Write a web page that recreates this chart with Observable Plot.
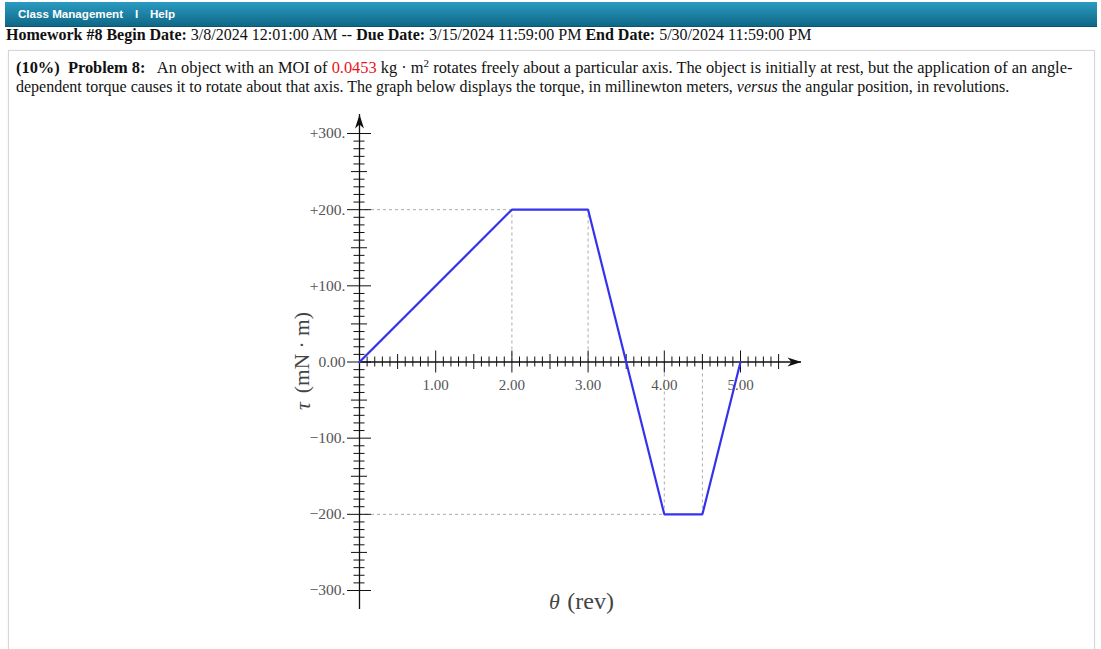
<!DOCTYPE html>
<html>
<head>
<meta charset="utf-8">
<script src="https://cdn.jsdelivr.net/npm/d3@7"></script>
<script src="https://cdn.jsdelivr.net/npm/@observablehq/plot@0.6"></script>
<style>
  html, body { margin: 0; padding: 0; background: #fff; }
  .page { position: relative; width: 1101px; height: 649px; overflow: hidden; font-family: "Liberation Serif", "Times New Roman", serif; color: #111; }
  .topbar { position: absolute; left: 5px; top: 2px; width: 1092px; height: 24px;
    background: linear-gradient(#2b9cc2, #0f6787); border-bottom: 1px solid #0b5570; }
  .topbar span { position: absolute; top: 5px; font-family: "Liberation Sans", Arial, sans-serif; font-weight: bold; font-size: 11.6px; color: #fff; }
  .hw { position: absolute; left: 6px; top: 26px; font-size: 16px; line-height: 18px; white-space: nowrap; }
  .box { position: absolute; left: 8px; top: 50px; width: 1085px; height: 640px; border: 1px solid #d6d6d6; box-shadow: 0 0 2px #eee; }
  .prob { position: absolute; left: 16px; top: 58px; font-size: 16.4px; line-height: 19px; white-space: nowrap; }
  .l2 { font-size: 16px; }
  .red { color: #e8141e; }
  #chart { position: absolute; left: 0; top: 100px; }
  #chart svg { overflow: visible; background: transparent; }
</style>
</head>
<body>
<div class="page">
  <div class="topbar"><span style="left:13px">Class Management</span><span style="left:130px">I</span><span style="left:145px">Help</span></div>
  <div class="hw"><b>Homework #8 Begin Date:</b> 3/8/2024 12:01:00 AM -- <b>Due Date:</b> 3/15/2024 11:59:00 PM <b>End Date:</b> 5/30/2024 11:59:00 PM</div>
  <div class="box"></div>
  <div class="prob"><b>(10%)&nbsp; Problem 8:</b>&nbsp;&nbsp; An object with an MOI of <span class="red">0.0453</span> kg · m<sup style="font-size:11px;line-height:0">2</sup> rotates freely about a particular axis. The object is initially at rest, but the application of an angle-<br><span class="l2">dependent torque causes it to rotate about that axis. The graph below displays the torque, in millinewton meters, <i>versus</i> the angular position, in revolutions.</span></div>
  <div id="chart"></div>
</div>
<script>
// ---- data ----
const theta = [0, 2, 3, 4, 4.5, 5];            // angular position (rev)
const torque = [0, 200, 200, -200, -200, 0];    // torque (mN·m)
const yTickValues = [-300, -200, -100, 0, 100, 200, 300];
const yTickLabels = ["\u2212300.", "\u2212200.", "\u2212100.", "0.00", "+100.", "+200.", "+300."];
const xTickValues = [1, 2, 3, 4, 5];
const xTickLabels = ["1.00", "2.00", "3.00", "4.00", "5.00"];
const xAxisExtent = [0, 5.8];
const yAxisExtent = [-325, 325];
const xLabelSymbol = "\u03b8", xLabelUnit = "(rev)";
const yLabelSymbol = "\u03c4", yLabelUnit = "(mN \u00b7 m)";

const points = theta.map((t, i) => ({theta: t, torque: torque[i]}));

// dashed guide lines from the breakpoints
const vGuides = points.filter(d => d.torque !== 0);
const hGuides = vGuides.filter((d, i, a) => i === 0 || a[i - 1].torque !== d.torque);

// tick positions
const round = v => Math.round(v * 1000) / 1000;
const xAll = d3.range(1, 56).map(i => round(i / 10));
const xMajor = xAll.filter(v => Math.abs(v - Math.round(v)) < 1e-6);
const xMed = xAll.filter(v => !xMajor.includes(v) && Math.abs(v * 2 - Math.round(v * 2)) < 1e-6);
const xMinor = xAll.filter(v => !xMajor.includes(v) && !xMed.includes(v));
const yAll = d3.range(-30, 31).map(i => i * 10);
const yMajor = yAll.filter(v => v % 100 === 0);
const yMed = yAll.filter(v => v % 100 !== 0 && v % 50 === 0);
const yMinor = yAll.filter(v => v % 50 !== 0);

const xTick = (vals, half) => Plot.ruleX(vals, {x: d => d, y1: () => 0, y2: () => 0, insetTop: -half, insetBottom: -half, stroke: "#111", strokeWidth: 1});
const yTick = (vals, half) => Plot.ruleY(vals, {y: d => d, x1: () => 0, x2: () => 0, insetLeft: -half, insetRight: -half, stroke: "#111", strokeWidth: 1});

const arrowRight = {draw(ctx) { ctx.moveTo(0, 0); ctx.lineTo(-14, -4.5); ctx.lineTo(-10, 0); ctx.lineTo(-14, 4.5); ctx.closePath(); }};
const arrowUp = {draw(ctx) { ctx.moveTo(0, 0); ctx.lineTo(-4.5, 14); ctx.lineTo(0, 10); ctx.lineTo(4.5, 14); ctx.closePath(); }};

const dash = {stroke: "#aaa", strokeWidth: 1, strokeDasharray: "3,3"};
const labelFont = {fill: "#444", fontFamily: "Liberation Serif"};

const chart = Plot.plot({
  width: 1101,
  height: 530,
  marginLeft: 359,
  marginRight: 361,
  marginTop: 33,
  marginBottom: 40,
  x: {domain: [0, 5], axis: null},
  y: {domain: [-300, 300], axis: null},
  style: {background: "transparent", overflow: "visible"},
  marks: [
    // guides
    Plot.ruleX(vGuides, {x: "theta", y1: () => 0, y2: "torque", ...dash}),
    Plot.ruleY(hGuides, {y: "torque", x1: () => 0, x2: "theta", ...dash}),
    // axes
    Plot.ruleY([0], {x1: xAxisExtent[0], x2: xAxisExtent[1], stroke: "#111", strokeWidth: 1.3}),
    Plot.ruleX([0], {y1: yAxisExtent[0], y2: yAxisExtent[1], stroke: "#111", strokeWidth: 1.3}),
    Plot.dot([{x: xAxisExtent[1], y: 0}], {x: "x", y: "y", symbol: arrowRight, fill: "#111", stroke: "none"}),
    Plot.dot([{x: 0, y: yAxisExtent[1]}], {x: "x", y: "y", symbol: arrowUp, fill: "#111", stroke: "none"}),
    // ticks
    xTick(xMinor, 5), xTick(xMed, 7.5), xTick(xMajor, 11),
    yTick(yMinor, 5.5), yTick(yMed, 8), yTick(yMajor, 12),
    // tick labels
    Plot.text(yTickValues, {x: () => 0, y: d => d, text: (d, i) => yTickLabels[i], textAnchor: "end", dx: -14, fill: "#555", fontSize: 15.5, fontFamily: "Liberation Serif"}),
    Plot.text(xTickValues, {x: d => d, y: () => 0, text: (d, i) => xTickLabels[i], dy: 23, fill: "#555", fontSize: 15, fontFamily: "Liberation Serif"}),
    // axis labels
    Plot.text([yLabelSymbol], {frameAnchor: "left", text: d => d, rotate: -90, textAnchor: "start", dx: -57, dy: 48, fontSize: 22, fontStyle: "italic", ...labelFont}),
    Plot.text([yLabelUnit], {frameAnchor: "left", text: d => d, rotate: -90, textAnchor: "end", dx: -57, dy: -50, fontSize: 21.5, ...labelFont}),
    Plot.text([xLabelSymbol], {frameAnchor: "bottom", text: d => d, textAnchor: "start", dx: -1, dy: 18, fontSize: 22, fontStyle: "italic", ...labelFont}),
    Plot.text([xLabelUnit], {frameAnchor: "bottom", text: d => d, textAnchor: "end", dx: 64, dy: 18, fontSize: 24, ...labelFont}),
    // data
    Plot.line(points, {x: "theta", y: "torque", stroke: "#3333ee", strokeWidth: 2.2, strokeLinejoin: "miter"})
  ]
});
document.getElementById("chart").appendChild(chart);
</script>
</body>
</html>
